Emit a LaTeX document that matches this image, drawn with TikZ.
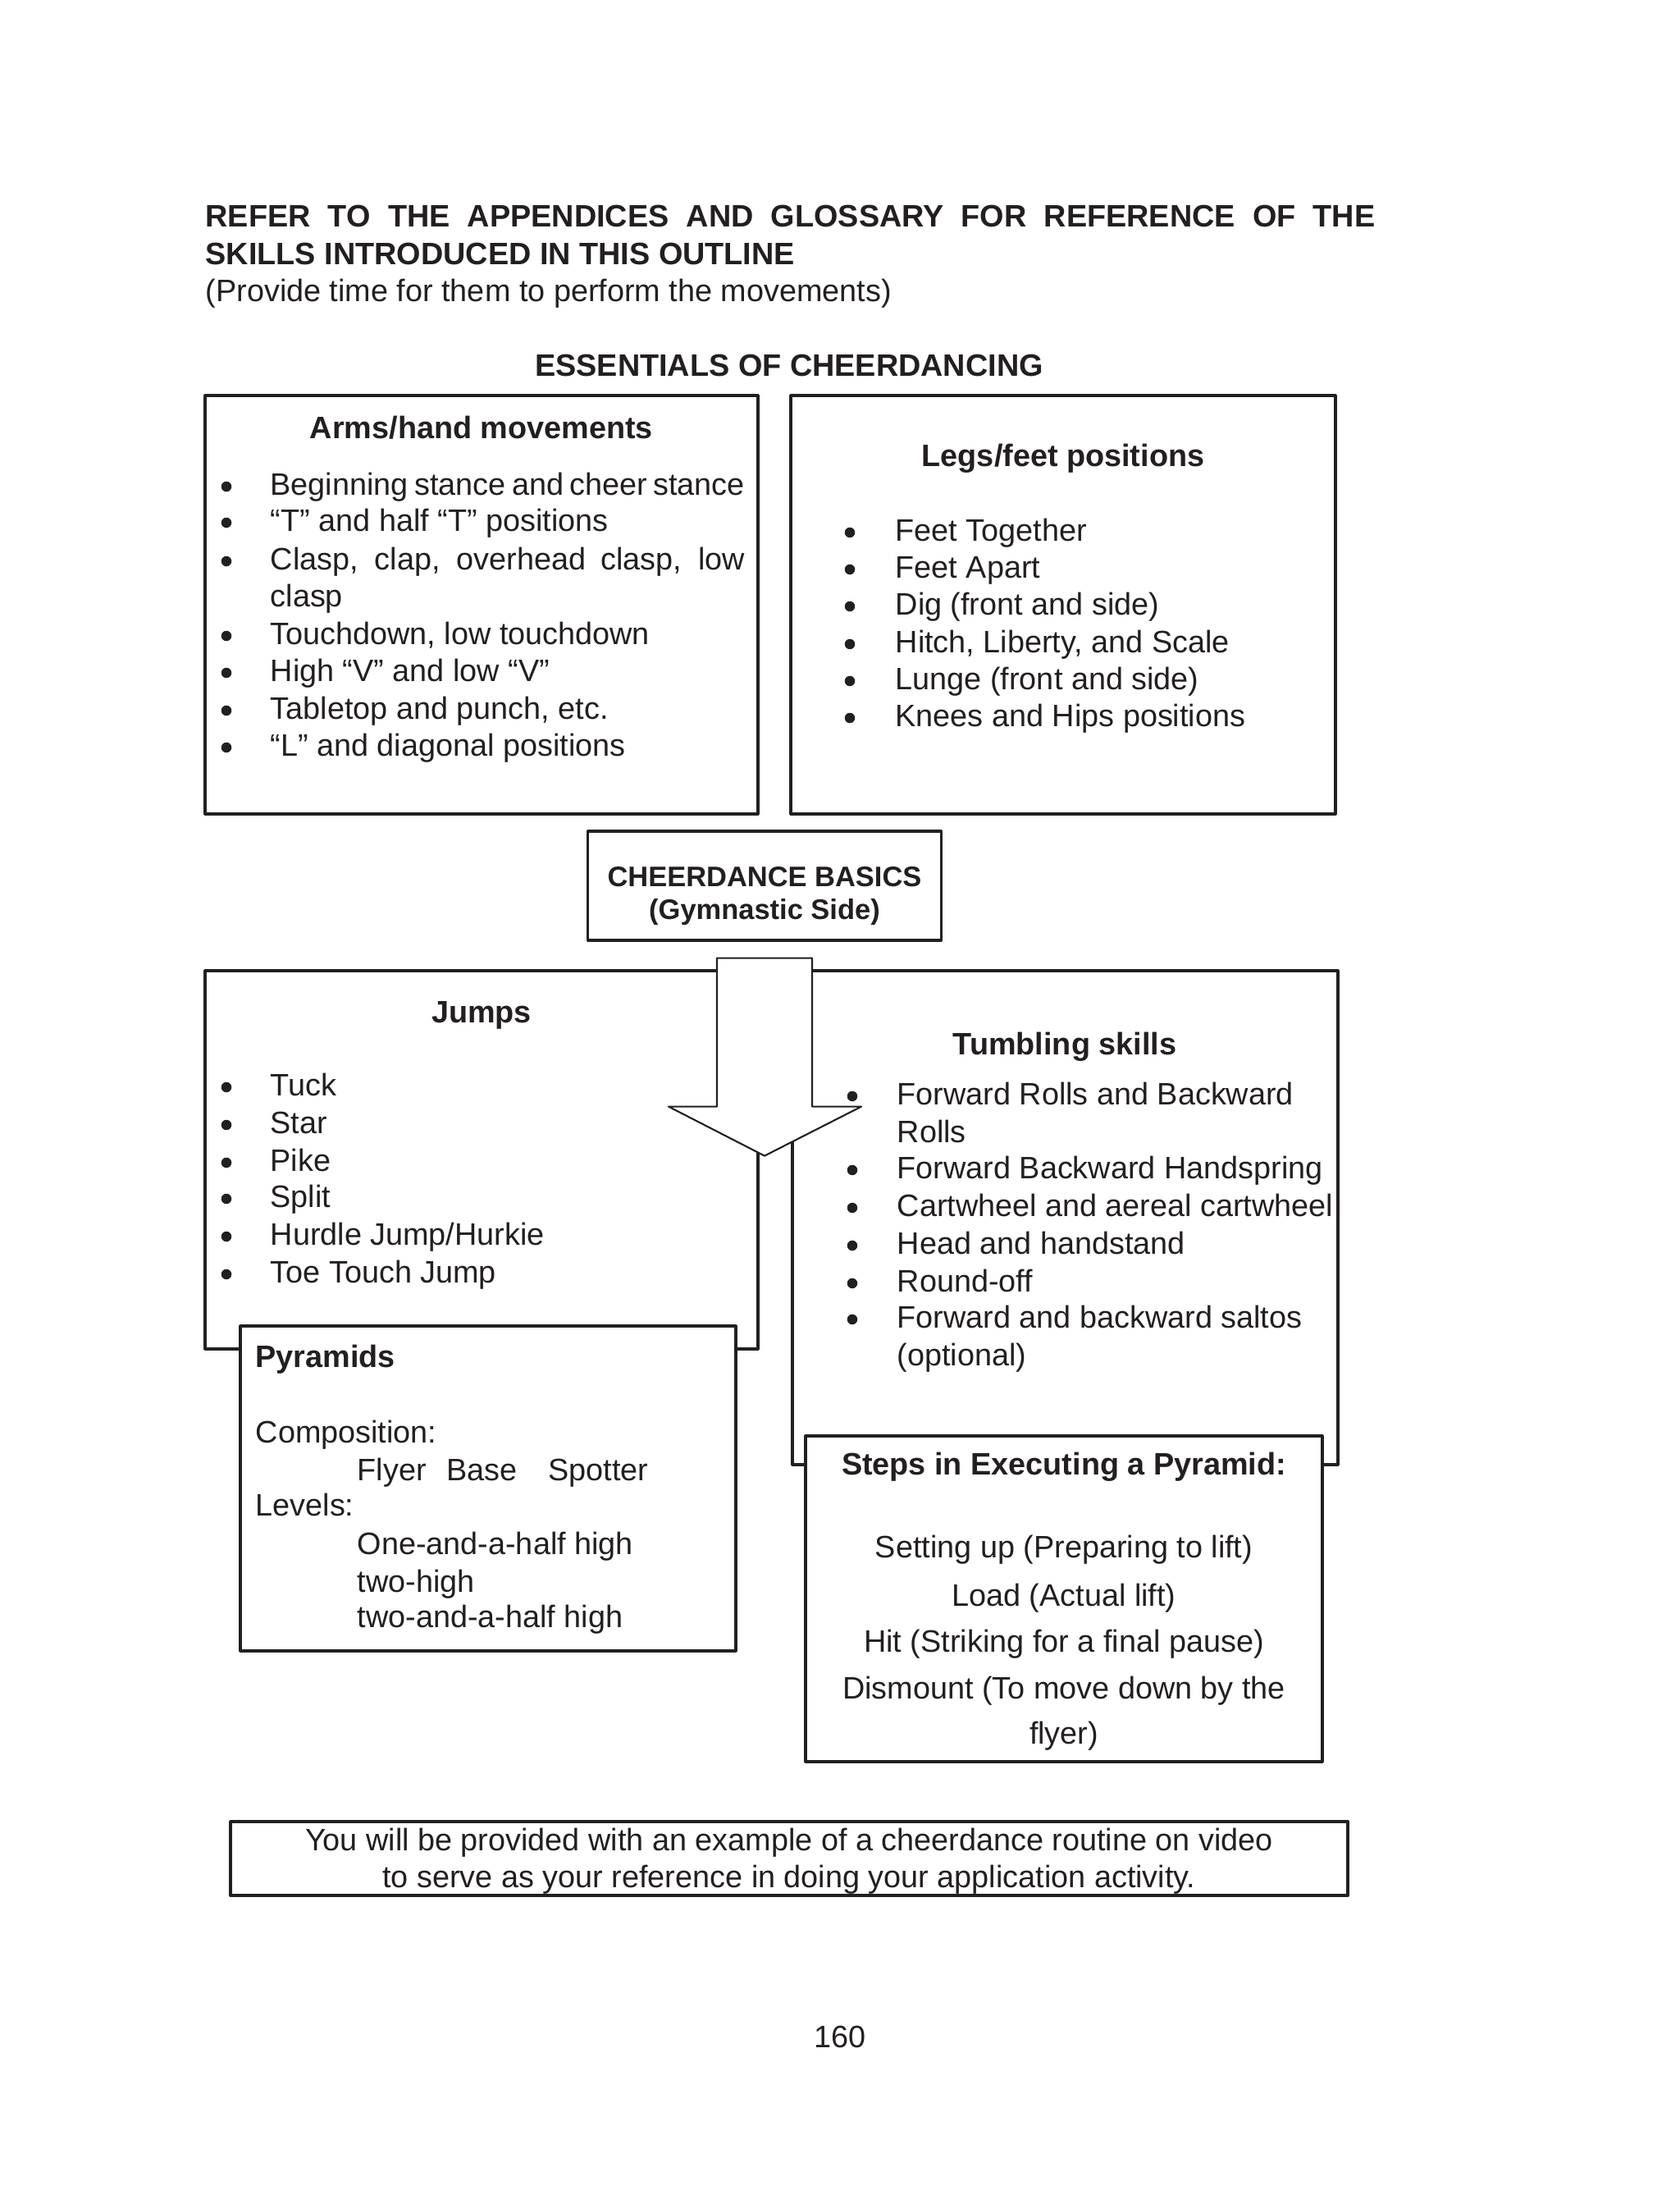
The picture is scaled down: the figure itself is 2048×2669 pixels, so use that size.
\documentclass[tikz,border=0pt]{standalone}
\usepackage{fontspec}
\setmainfont{Liberation Sans}
\newcommand\bodyfont{\fontsize{10.75}{12.9}\selectfont}
\newcommand\basicsfont{\fontsize{9.8}{11}\selectfont}
\definecolor{ink}{RGB}{35,31,32}
\begin{document}
\begin{tikzpicture}[x=0.01cm, y=-0.01cm, font=\bodyfont, color=ink, line join=round, line cap=round,
	txt/.style={anchor=base west, inner sep=0pt},
	mid/.style={anchor=base, inner sep=0pt},
	dot/.style={circle, fill, inner sep=0pt, minimum size=0.125cm},
	boxline/.style={line width=0.9pt, fill=white}]
	\fill[white] (0,0) rectangle (2048,2669);
	\useasboundingbox (0,0) rectangle (2048,2669);
	
	\node[txt] (refer-1) at (250,276) {\bfseries\makebox[14.25cm][s]{REFER TO THE APPENDICES AND GLOSSARY FOR REFERENCE OF THE}};
	\node[txt] (refer-2) at (250,322) {\bfseries SKILLS INTRODUCED IN THIS OUTLINE};
	\node[txt] (provide) at (250,367) {(Provide time for them to perform the movements)};
	\node[mid] (essentials) at (962,458) {\bfseries ESSENTIALS OF CHEERDANCING};
	
	\draw[boxline] (250,482) rectangle (924,992) (964,482) rectangle (1628,992);
	\node[mid] (armshead) at (587,534) {\bfseries Arms/hand movements};
	\foreach \y/\t [count=\i] in {603/{\makebox[5.78cm][s]{Beginning stance and cheer stance}}, 647/{“T” and half “T” positions}, 694/{\makebox[5.78cm][s]{Clasp, clap, overhead clasp, low}}, 785/{Touchdown, low touchdown}, 830/{High “V” and low “V”}, 876/{Tabletop and punch, etc.}, 921/{“L” and diagonal positions}}
		\path (276,\y-10) node[dot] (armsdot-\i) {} (329,\y) node[txt] (arms-\i) {\t};
	\node[txt] (arms-3b) at (329,739) {clasp};
	
	\node[mid] (legshead) at (1296,568) {\bfseries Legs/feet positions};
	\foreach \y/\t [count=\i] in {659/Feet Together, 704/Feet Apart, 749/Dig (front and side), 795/{Hitch, Liberty, and Scale}, 840/Lunge (front and side), 885/Knees and Hips positions}
		\path (1036,\y-10) node[dot] (legsdot-\i) {} (1091,\y) node[txt] (legs-\i) {\t};
	
	\node[draw, line width=0.9pt, minimum width=4.3cm, minimum height=1.33cm] (basics) at (932,1079.5) {};
	\node[mid, font=\basicsfont\bfseries] (basics-1) at (932,1080) {CHEERDANCE BASICS};
	\node[mid, font=\basicsfont\bfseries] (basics-2) at (932,1120) {(Gymnastic Side)};
	
	\draw[boxline] (250,1183) rectangle (924,1644) (966,1183) rectangle (1631,1785);
	\draw[fill=white, line width=0.6pt, shift={(basics.south)}] (-58,20) -- (58,20) -- (58,201) -- (118,201) -- (0,261) -- (-117,201) -- (-58,201) -- cycle;
	
	\node[mid] (jumpshead) at (587,1246) {\bfseries Jumps};
	\foreach \y/\t [count=\i] in {1335/Tuck, 1381/Star, 1427/Pike, 1471/Split, 1517/{Hurdle Jump/Hurkie}, 1563/Toe Touch Jump}
		\path (276,\y-10) node[dot] (jumpsdot-\i) {} (329,\y) node[txt] (jumps-\i) {\t};
	
	\node[mid] (tumblehead) at (1298,1285) {\bfseries Tumbling skills};
	\foreach \y/\t [count=\i] in {1346/Forward Rolls and Backward, 1436/Forward Backward Handspring, 1482/Cartwheel and aereal cartwheel, 1528/Head and handstand, 1574/Round-off, 1618/Forward and backward saltos}
		\path (1039,\y-10) node[dot] (tumbledot-\i) {} (1093,\y) node[txt] (tumble-\i) {\t};
	\node[txt] (tumble-1b) at (1093,1392) {Rolls};
	\node[txt] (tumble-6b) at (1093,1664) {(optional)};
	
	\draw[boxline] (293,1616) rectangle (897,2012);
	\node[txt] (pyrhead) at (311,1666) {\bfseries Pyramids};
	\node[txt] (composition) at (311,1758) {Composition:};
	\foreach \x/\t in {435/Flyer, 544/Base, 668/Spotter}
		\node[txt] (role-\t) at (\x,1804) {\t};
	\node[txt] (levels) at (311,1847) {Levels:};
	\foreach \y/\t [count=\i] in {1894/One-and-a-half high, 1940/two-high, 1983/two-and-a-half high}
		\node[txt] (level-\i) at (435,\y) {\t};
	
	\draw[boxline] (982,1750) rectangle (1612,2147);
	\node[mid] (stepshead) at (1297,1797) {\bfseries Steps in Executing a Pyramid:};
	\foreach \y/\t [count=\i] in {1898/Setting up (Preparing to lift), 1957/Load (Actual lift), 2013/Hit (Striking for a final pause), 2070/Dismount (To move down by the, 2125/flyer)}
		\node[mid] (step-\i) at (1297,\y) {\t};
	
	\draw[boxline, line width=1.1pt] (281,2220) rectangle (1643,2310);
	\node[mid] (video-1) at (962,2255) {You will be provided with an example of a cheerdance routine on video};
	\node[mid] (video-2) at (962,2300) {to serve as your reference in doing your application activity.};
	
	\node[mid] (pagenum) at (1024,2495) {160};
\end{tikzpicture}
\end{document}
